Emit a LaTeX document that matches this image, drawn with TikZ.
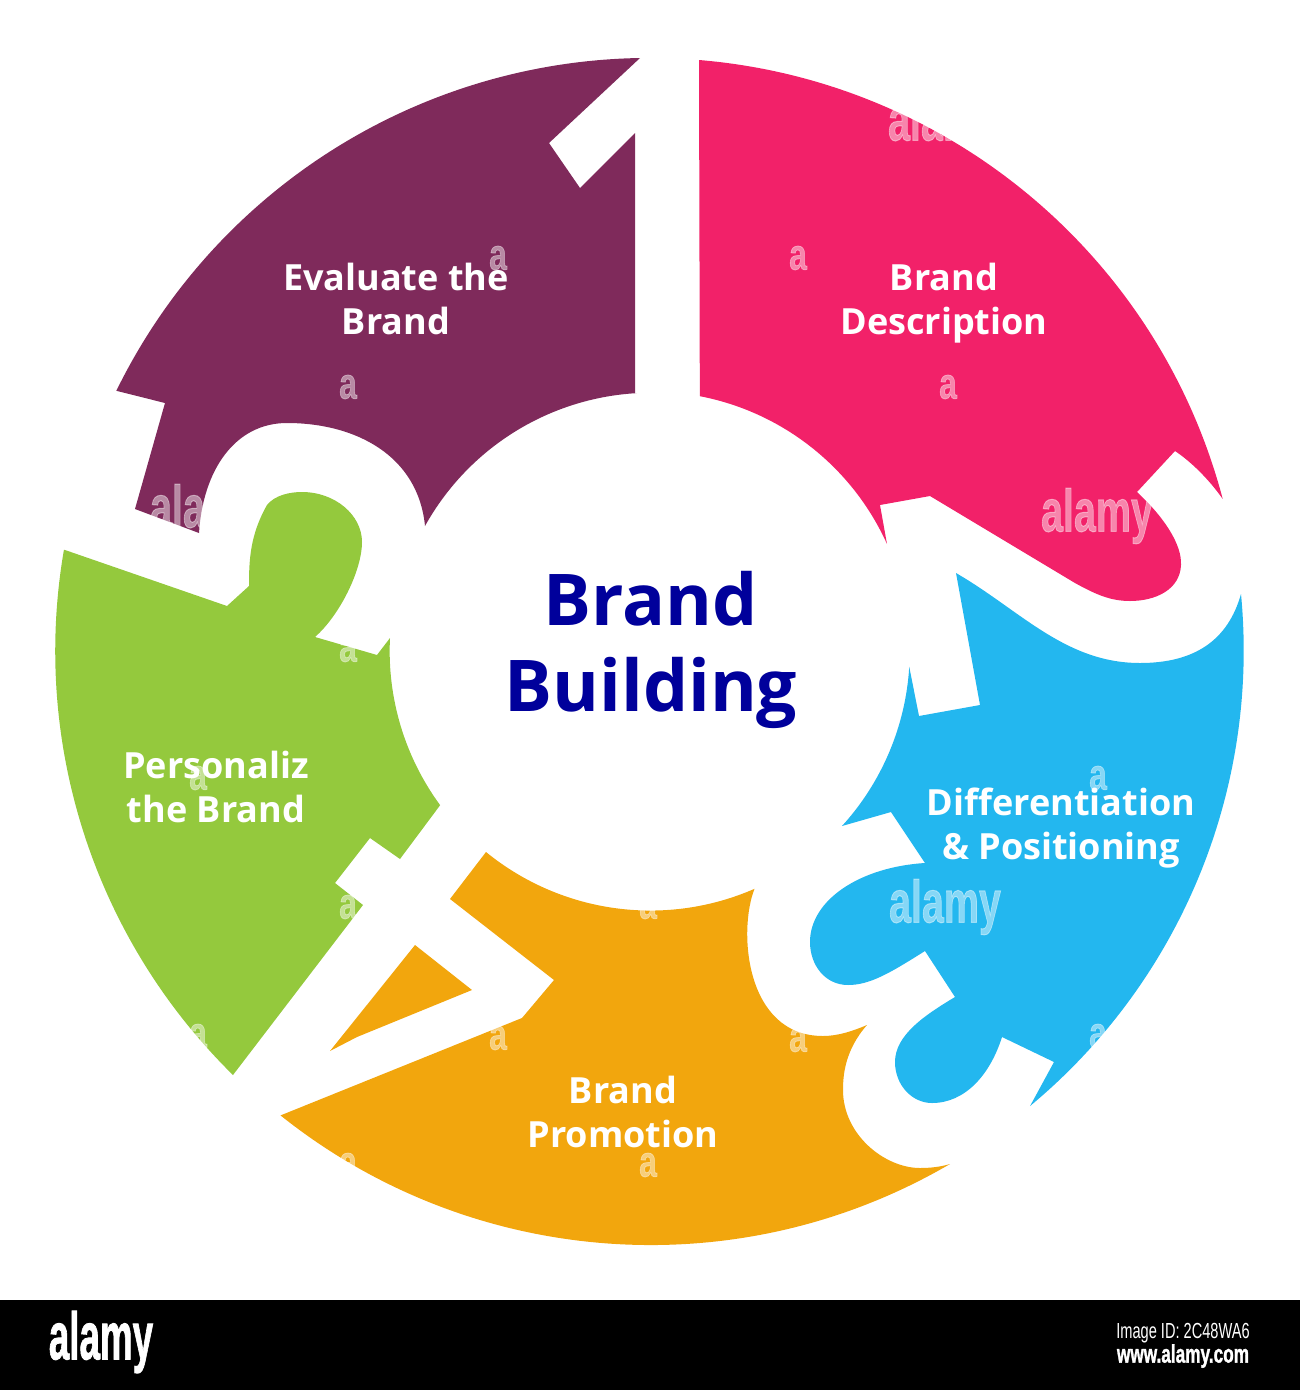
\documentclass[tikz,border=0pt]{standalone}
\usepackage{fontspec}
\setmainfont{Open Sans}
\newfontfamily\stampfont[BoldFeatures={FakeBold=1.6}]{Liberation Sans}
\definecolor{brandpurple}{HTML}{7F2A5B}
\definecolor{brandpink}{HTML}{F22169}
\definecolor{brandblue}{HTML}{23B7EF}
\definecolor{brandorange}{HTML}{F2A60D}
\definecolor{brandgreen}{HTML}{94C93D}
\definecolor{brandnavy}{HTML}{00009B}
\tikzset{
  steplabel/.style={text=white, align=center, font=\fontsize{10.25}{12.5}\selectfont\bfseries},
  stampa/.style={text=white, opacity=0.45, font=\fontsize{12.5}{12.5}\selectfont\stampfont\bfseries},
  stampword/.style={text=white, opacity=0.45, font=\fontsize{17}{17}\selectfont\stampfont\bfseries}
}
\newcommand{\narrowtext}[2]{\scalebox{#1}[1]{#2}}
\begin{document}
\begin{tikzpicture}[x=0.01cm,y=0.01cm,yscale=-1]
    \useasboundingbox (0,0) rectangle (1300,1390);
    % footer band
    \fill[black] (0,1300) rectangle (1300,1390);
    % evaluate
    \fill[brandpurple] (640,58) arc[start angle=269.03,end angle=206.1,radius=5.94cm]
        -- (165,403) -- (135,509) -- (199,533)
        .. controls (203,470) and (235,423) .. (287,423)
        .. controls (355,423) and (418,455) .. (425,526)
        arc[start angle=209.05,end angle=266.7,radius=2.59cm]
        -- (635,393) -- (635,133) -- (580,188) -- (549,143) -- cycle;
    % description
    \fill[brandpink] (699,60) arc[start angle=-85.26,end angle=-14.8,radius=5.92cm]
        .. controls (1208,478) and (1190,461) .. (1175,451)
        -- (1137,492)
        .. controls (1165,518) and (1182,545) .. (1181,565)
        .. controls (1180,590) and (1155,601) .. (1130,601)
        .. controls (1110,601) and (1095,594) .. (1075,583)
        -- (930,496) -- (880,505) -- (887,544)
        arc[start angle=-24.3,end angle=-79.1,radius=2.59cm] -- cycle;
    % differentiation
    \fill[brandblue] (956,573)
        .. controls (1020,610) and (1065,663) .. (1140,663)
        .. controls (1195,663) and (1228,640) .. (1241,594)
        arc[start angle=-5.48,end angle=50.26,radius=5.92cm]
        -- (1054,1062) -- (1002,1037)
        .. controls (990,1075) and (965,1103) .. (932,1103)
        .. controls (912,1103) and (895,1085) .. (895,1062)
        .. controls (895,1035) and (925,1015) .. (955,997)
        -- (925,951)
        .. controls (890,973) and (870,985) .. (848,985)
        .. controls (825,985) and (810,965) .. (810,942)
        .. controls (810,900) and (860,867) .. (925,863)
        -- (891,812) -- (842,826)
        arc[start angle=42.3,end angle=3.5,radius=2.6cm]
        -- (919,716) -- (980,705) -- cycle;
    % promotion
    \fill[brandorange] (486,852) arc[start angle=129.2,end angle=66.4,radius=2.6cm]
        .. controls (738,930) and (745,1036) .. (823,1036)
        .. controls (838,1036) and (853,1031) .. (867,1025)
        .. controls (845,1050) and (843,1075) .. (843,1090)
        .. controls (843,1135) and (885,1168) .. (920,1168)
        .. controls (930,1168) and (940,1167) .. (950,1164)
        arc[start angle=59.7,end angle=128.6,radius=5.93cm]
        -- (522,1018) -- (554,980) -- (450,899) -- cycle;
    \fill[brandorange] (415,945) -- (472,990) -- (357,1037) -- (330,1051) -- cycle;
    % personalize
    \fill[brandgreen] (65,550) -- (227,606) -- (249,586)
        .. controls (249,560) and (250,535) .. (267,505)
        .. controls (275,495) and (290,492) .. (302,492)
        .. controls (335,492) and (362,515) .. (362,542)
        .. controls (362,570) and (340,615) .. (315,637)
        -- (377,655) -- (390,638)
        arc[start angle=182.9,end angle=143.7,radius=2.6cm]
        -- (400,859) -- (370,838) -- (335,883) -- (363,905) -- (233,1075)
        arc[start angle=134.5,end angle=189.8,radius=5.94cm] -- cycle;
    % stamps
    \foreach \px/\py [count=\i] in {498/258, 798/258, 348/387, 948/387, 348/650, 198/778, 1098/778, 348/907, 648/907, 198/1036, 498/1038, 798/1040, 1098/1036, 348/1165, 648/1165}
        \node[stampa] (a\i) at (\px,\py) {\narrowtext{0.72}{a}};
    \node[stampword] (word1) at (944,125) {\narrowtext{0.66}{alamy}};
    \node[stampword] (word2) at (1097,516) {\narrowtext{0.66}{alamy}};
    \node[stampword] (word3) at (945,907) {\narrowtext{0.66}{alamy}};
    \node[stampword] (word4) at (206,512) {\narrowtext{0.66}{alamy}};
    % texts
    \node[steplabel] (evaluate) at (396,299) {Evaluate the\\Brand};
    \node[steplabel] (description) at (944,303) {Brand\\Description};
    \node[steplabel] (differentiation) at (1061,828) {Differentiation\\\& Positioning};
    \node[steplabel] (promotion) at (623,1112) {Brand\\Promotion};
    \node[steplabel] (personalize) at (216,787) {Personaliz\\the Brand};
    \node[text=brandnavy, align=center, font=\fontsize{20.3}{24.5}\selectfont\bfseries] (title) at (651,650) {Brand\\Building};
    % footer texts
    \node[text=white, font=\fontsize{19}{19}\selectfont\stampfont\bfseries] (logo) at (101,1342) {\narrowtext{0.55}{alamy}};
    \node[text=white, font=\fontsize{6.2}{7}\selectfont\stampfont] (imageid) at (1183,1333) {\narrowtext{0.67}{Image ID: 2C48WA6}};
    \node[text=white, font=\fontsize{7.2}{8}\selectfont\stampfont\bfseries] (website) at (1183,1356) {\narrowtext{0.68}{www.alamy.com}};
\end{tikzpicture}
\end{document}
